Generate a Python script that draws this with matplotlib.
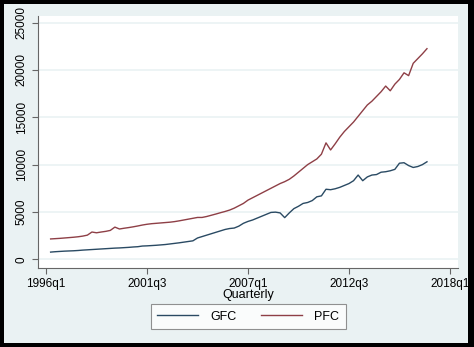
import matplotlib.pyplot as plt
from matplotlib.patches import Rectangle

# quarterly series, 1996q2 .. 2016q4
quarters = list(range(1, 84))

pfc = [2150, 2180, 2210,
       2250, 2290, 2330, 2380,
       2450, 2550, 2880, 2800,
       2880, 2950, 3050, 3400,
       3200, 3280, 3350, 3430,
       3520, 3620, 3700, 3760,
       3800, 3840, 3880, 3920,
       3980, 4060, 4150, 4240,
       4330, 4420, 4420, 4520,
       4650, 4780, 4920, 5050,
       5200, 5400, 5650, 5900,
       6250, 6500, 6750, 7000,
       7250, 7500, 7750, 8000,
       8200, 8450, 8800, 9200,
       9600, 10000, 10300, 10600,
       11100, 12300, 11550, 12200,
       12900, 13500, 14000, 14500,
       15100, 15700, 16300, 16700,
       17200, 17700, 18300, 17800,
       18500, 19000, 19700, 19400,
       20700, 21200, 21700, 22250]

gfc = [760, 800, 830,
       860, 880, 900, 930,
       970, 1000, 1030, 1060,
       1090, 1120, 1150, 1180,
       1200, 1230, 1260, 1300,
       1330, 1400, 1420, 1450,
       1480, 1520, 1560, 1620,
       1680, 1740, 1810, 1880,
       1950, 2250, 2400, 2550,
       2700, 2850, 3000, 3150,
       3250, 3300, 3500, 3800,
       4000, 4150, 4350, 4550,
       4750, 4950, 4980, 4900,
       4400, 4900, 5350, 5600,
       5900, 6000, 6200, 6600,
       6700, 7400, 7350, 7450,
       7600, 7800, 8000, 8300,
       8900, 8300, 8700, 8900,
       8950, 9200, 9250, 9350,
       9500, 10150, 10200, 9900,
       9700, 9800, 10000, 10300]

xtick_pos = [0, 22, 44, 66, 88]
xtick_labels = ['1996q1', '2001q3', '2007q1', '2012q3', '2018q1']
yticks = [0, 5000, 10000, 15000, 20000, 25000]

bg = '#eaf2f3'
plt.rcParams['font.family'] = ['Liberation Sans', 'DejaVu Sans']

fig = plt.figure(figsize=(4.74, 3.47), dpi=100)
fig.patch.set_facecolor('black')
fig.add_artist(Rectangle((4 / 474, 4 / 347), 464 / 474, 339 / 347,
                         transform=fig.transFigure, facecolor=bg,
                         edgecolor='none', zorder=-5))

ax = fig.add_axes([38 / 474, 79 / 347, 420 / 474, 252 / 347])
ax.set_facecolor('white')

ax.plot(quarters, gfc, color='#2a4a63', lw=1.0, label='GFC')
ax.plot(quarters, pfc, color='#8e3f46', lw=1.0, label='PFC')

ax.set_xlim(-1.75, 89.76)
ax.set_ylim(-920, 25700)
ax.set_xticks(xtick_pos)
ax.set_xticklabels(xtick_labels)
ax.set_yticks(yticks)
ax.set_yticklabels([str(v) for v in yticks], rotation=90, va='center')
ax.tick_params(labelsize=8.5, color='#666666', length=4, width=0.8)
ax.grid(axis='y', color=bg, lw=1.2)
ax.set_axisbelow(True)

for s in ['top', 'right']:
    ax.spines[s].set_visible(False)
for s in ['left', 'bottom']:
    ax.spines[s].set_color('#666666')
    ax.spines[s].set_linewidth(0.8)

ax.set_xlabel('Quarterly', fontsize=9, labelpad=-1)

leg = ax.legend(loc='center', bbox_to_anchor=(248 / 474, 1 - 316.5 / 347),
                bbox_transform=fig.transFigure, ncol=2, fontsize=9,
                frameon=True, fancybox=False, edgecolor='#777777',
                handlelength=3.3, handletextpad=1.0, columnspacing=1.9,
                borderpad=0.5)
leg.get_frame().set_linewidth(0.8)

fig.savefig('out.png', dpi=100, facecolor=fig.get_facecolor())
